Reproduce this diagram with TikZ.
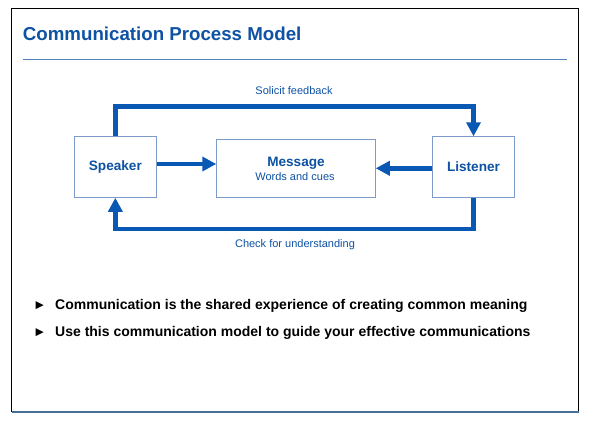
\documentclass[tikz,border=0pt]{standalone}
\usepackage{fontspec}
\setmainfont{Liberation Sans}
\usetikzlibrary{arrows.meta,calc}
\definecolor{tblue}{RGB}{14,82,164}
\definecolor{ablue}{RGB}{8,88,180}
\definecolor{bborder}{RGB}{125,155,200}
\definecolor{rulecol}{RGB}{80,130,190}
\definecolor{frameblue}{RGB}{70,110,150}
\begin{document}
\begin{tikzpicture}[x=1pt,y=-1pt,
  box/.style={draw=bborder,line width=0.9pt,fill=white,inner sep=0pt,text=tblue,font=\bfseries\fontsize{13.6}{16}\selectfont},
  flow/.style={draw=ablue,line width=4.6pt,-{Triangle[length=14pt,width=14pt]}},
  lbl/.style={text=tblue,font=\fontsize{11}{13}\selectfont,inner sep=0pt,anchor=base},
  bullettext/.style={anchor=base west,inner sep=0pt,font=\bfseries\fontsize{14}{16}\selectfont},
  bulletmark/.style={anchor=base west,inner sep=0pt,font=\fontsize{13.5}{16}\selectfont},
]
\useasboundingbox (0,0) rectangle (595,423);
\fill[white] (0,0) rectangle (595,423);
\draw[line width=1.3pt] (11.5,412) -- (11.5,8.5) -- (578.5,8.5) -- (578.5,412);
\draw[frameblue,line width=1.6pt] (11.5,412) -- (578.5,412);

\node[anchor=base west,inner sep=0pt,text=tblue,font=\bfseries\fontsize{18.7}{22}\selectfont] (title) at (22.7,40) {Communication Process Model};
\draw[rulecol,line width=1pt] (22.7,59.5) -- (566.7,59.5);

\node[box,minimum width=82.7pt,minimum height=61.3pt] (speaker) at (115.35,166.7) {Speaker};
\node[box,minimum width=158.6pt,minimum height=58pt] (message) at (296,168.3) {};
\node[box,minimum width=81.6pt,minimum height=60.6pt] (listener) at (473.5,167) {Listener};
\node[anchor=base,inner sep=0pt,text=tblue,font=\bfseries\fontsize{13.6}{16}\selectfont] (msgtitle) at (296,166) {Message};
\node[lbl] (msgsub) at (295,180.7) {Words and cues};

\coordinate (topmid) at (295,106.7);
\coordinate (botmid) at (295,229);
\draw[flow] (speaker.north) |- (topmid) -| (listener.north);
\draw[flow] (listener.south) |- (botmid) -| (speaker.south);
\draw[flow] ($(speaker.east)+(0,-2.7)$) -- ($(message.west |- speaker.east)+(0,-2.7)$);
\draw[flow] ($(listener.west)+(0,1.3)$) -- ($(message.east |- listener.west)+(0,1.3)$);

\node[lbl] (solicit) at (294,94) {Solicit feedback};
\node[lbl] (check) at (295,247) {Check for understanding};

\node[bulletmark] (m1) at (33,309.5) {►};
\node[bullettext] (b1) at (55,309.5) {Communication is the shared experience of creating common meaning};
\node[bulletmark] (m2) at (33,336) {►};
\node[bullettext] (b2) at (55,336) {Use this communication model to guide your effective communications};
\end{tikzpicture}
\end{document}
